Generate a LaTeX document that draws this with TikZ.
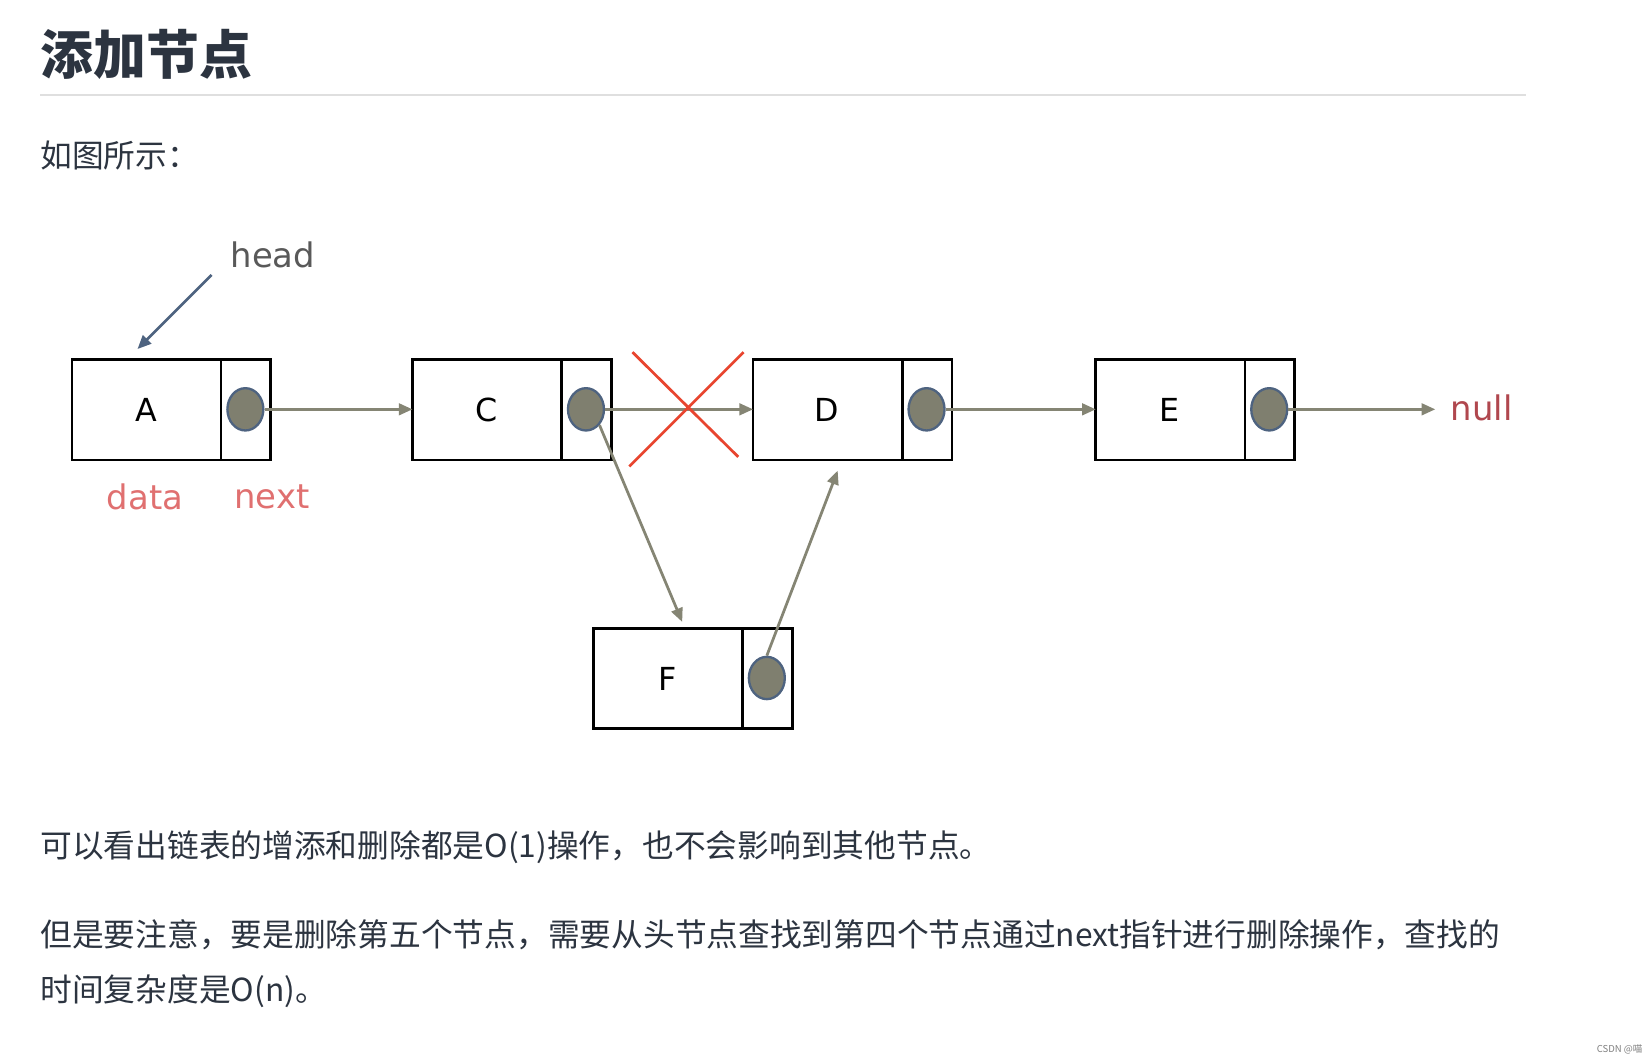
\documentclass[tikz,border=0pt]{standalone}
\usepackage{fontspec}
\setmainfont{DejaVu Sans}
\newfontfamily\cjk{Noto Sans CJK SC}
\usetikzlibrary{arrows.meta,shapes.geometric}
\definecolor{ink}{HTML}{2C3440}
\definecolor{arr}{HTML}{858574}
\definecolor{dot}{HTML}{7F7F6F}
\definecolor{dotb}{HTML}{4E6380}
\definecolor{nullc}{HTML}{B0474E}
\definecolor{lab}{HTML}{E07070}
\definecolor{xred}{HTML}{E8452F}
\begin{document}
\begin{tikzpicture}[x=1pt,y=-1pt,
  box/.style={draw=black,line width=2.6pt},
  ptr/.style={ellipse,fill=dot,draw=dotb,line width=2.2pt,minimum width=34pt,minimum height=40pt,inner sep=0pt},
  link/.style={draw=arr,line width=2.6pt,-{Triangle[length=13pt,width=11pt]}},
  txt/.style={anchor=base west,inner sep=0pt,text=ink,font=\cjk\fontsize{30}{36}\selectfont}]
\useasboundingbox (0,0) rectangle (1560,1000);
\fill[white] (0,0) rectangle (1560,1000);
\node[anchor=base west,inner sep=0pt,text=ink,font=\cjk\bfseries\fontsize{50}{58}\selectfont] (title) at (38,70) {添加节点};
\draw[gray!25,line width=1.5pt] (38,90) -- (1443,90);
\node[txt] (intro) at (38,158) {如图所示：};
% boxes
\foreach \n/\x/\y in {A/68/340,C/390/340,D/712/340,E/1036/340,F/561/594}{
  \draw[box] (\x,\y) rectangle ++(188,95);
  \draw[box] (\x+141,\y) -- ++(0,95);
  \node[font=\fontsize{30}{36}\selectfont] (\n) at (\x+70,\y+48) {\n};
  \node[ptr] (p\n) at (\x+164,\y+47) {};
}
\coordinate (Cin) at (390,387);
\coordinate (Din) at (712,387);
\coordinate (Ein) at (1036,387);
\coordinate (nullin) at (1357,387);
\coordinate (Dbot) at (792,445);
\coordinate (Ftop) at (645,588);
\node[text=nullc,font=\fontsize{32}{38}\selectfont] (null) at (1401,386) {null};
\node[text=black!65,font=\fontsize{32}{38}\selectfont] (head) at (258,241) {head};
\coordinate (hs) at (200,260);
\coordinate (he) at (130,330);
\draw[dotb,line width=2.6pt,-{Triangle[length=13pt,width=11pt]}] (hs) -- (he);
\node[text=lab,font=\fontsize{32}{38}\selectfont] (data) at (137,470) {data};
\node[text=lab,font=\fontsize{32}{38}\selectfont] (next) at (257,470) {next};
\draw[link] (pA.east) -- (Cin);
\draw[link] (pC.east) -- (Din);
\draw[link] (pD.east) -- (Ein);
\draw[link] (pE.east) -- (nullin);
\draw[link] (pC.south east) -- (Ftop);
\draw[link] (pF.north) -- (Dbot);
\draw[xred,line width=2.6pt] (598,333) -- (698,432) (703,333) -- (595,441);
\node[txt] (l1) at (38,811) {可以看出链表的增添和删除都是O(1)操作，也不会影响到其他节点。};
\node[txt] (l2) at (38,895) {但是要注意，要是删除第五个节点，需要从头节点查找到第四个节点通过next指针进行删除操作，查找的};
\node[txt] (l3) at (38,947) {时间复杂度是O(n)。};
\node[anchor=base east,inner sep=0pt,text=gray,font=\cjk\fontsize{9}{11}\selectfont] (wm) at (1553,995) {CSDN @喵};
\end{tikzpicture}
\end{document}
